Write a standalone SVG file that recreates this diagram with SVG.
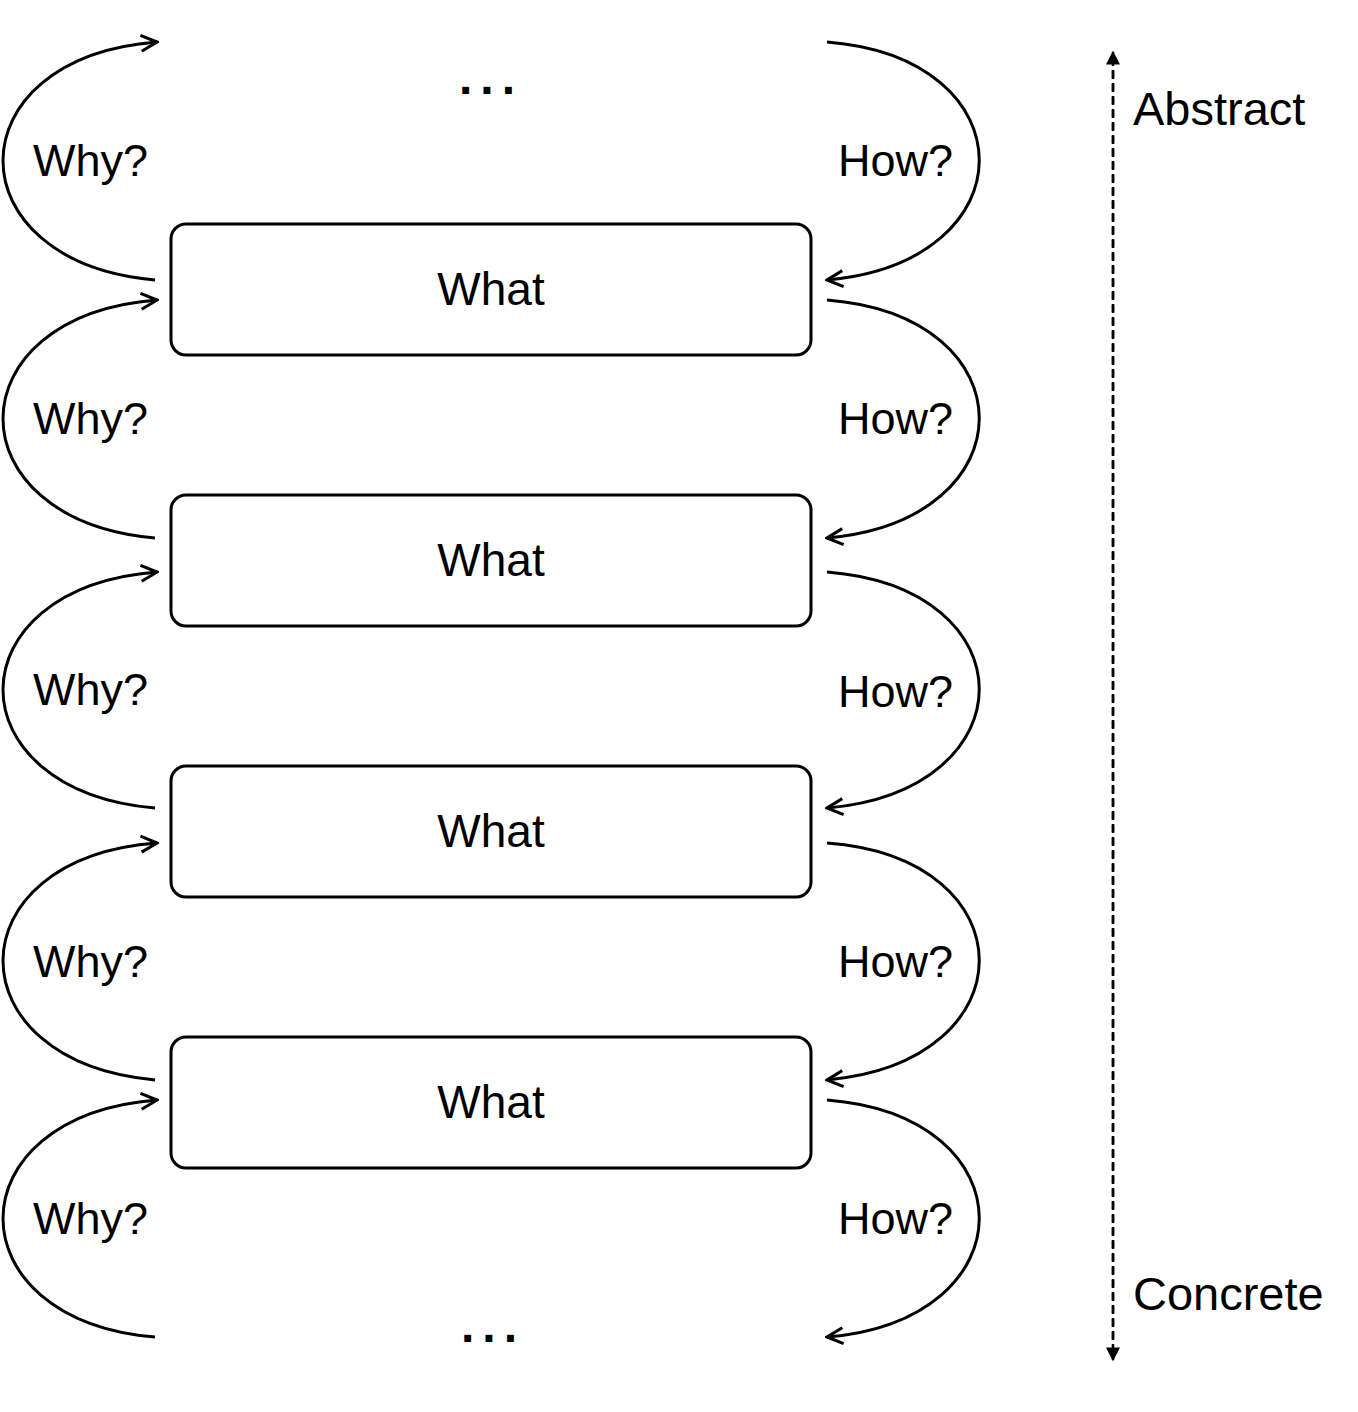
<svg xmlns="http://www.w3.org/2000/svg" width="1358" height="1412" viewBox="0 0 1358 1412">
<style>
.box{fill:#fff;stroke:#000;stroke-width:3}
.arc{fill:none;stroke:#000;stroke-width:3}
text{font-family:"Liberation Sans",Arial,sans-serif;fill:#000}
.lbl{font-size:45px}
.axis{font-size:47px}
.what{font-size:46px;text-anchor:middle}
.dots{font-size:48px;font-weight:bold;text-anchor:middle;letter-spacing:8px}
</style>
<defs>
<marker id="chev" viewBox="0 0 20 20" refX="18" refY="10" markerWidth="20" markerHeight="20" markerUnits="userSpaceOnUse" orient="auto">
<path d="M2,2 L18,10 L2,18" fill="none" stroke="#000" stroke-width="3"/>
</marker>
<marker id="tri" viewBox="0 0 10 10" refX="9" refY="5" markerWidth="14" markerHeight="14" markerUnits="userSpaceOnUse" orient="auto">
<path d="M0,0 L10,5 L0,10 Z" fill="#000"/>
</marker>
</defs>
<rect width="1358" height="1412" fill="#fff"/>
<g id="connectors">
<path class="arc" d="M155,280 C-48,262 -48,58 157,42" marker-end="url(#chev)"/>
<path class="arc" d="M155,538 C-48,520 -48,316 157,300" marker-end="url(#chev)"/>
<path class="arc" d="M155,808 C-48,790 -48,588 157,572" marker-end="url(#chev)"/>
<path class="arc" d="M155,1080 C-48,1062 -48,858 157,843" marker-end="url(#chev)"/>
<path class="arc" d="M155,1337 C-48,1320 -48,1116 157,1100" marker-end="url(#chev)"/>
<path class="arc" d="M827,42 C1030,58 1030,262 827,280" marker-end="url(#chev)"/>
<path class="arc" d="M827,300 C1030,316 1030,520 827,538" marker-end="url(#chev)"/>
<path class="arc" d="M827,572 C1030,588 1030,790 827,808" marker-end="url(#chev)"/>
<path class="arc" d="M827,843 C1030,858 1030,1062 827,1080" marker-end="url(#chev)"/>
<path class="arc" d="M827,1100 C1030,1116 1030,1320 827,1337" marker-end="url(#chev)"/>
<line x1="1113" y1="1340" x2="1113" y2="52" stroke="#000" stroke-width="2.5" stroke-dasharray="8,5" marker-end="url(#tri)"/>
<line x1="1113" y1="70" x2="1113" y2="1360" stroke="#000" stroke-width="2.5" stroke-dasharray="8,5" marker-end="url(#tri)"/>
</g>
<g id="what1"><rect class="box" x="171" y="224" width="640" height="131" rx="15"/><text class="what" x="491" y="305">What</text></g>
<g id="what2"><rect class="box" x="171" y="495" width="640" height="131" rx="15"/><text class="what" x="491" y="576">What</text></g>
<g id="what3"><rect class="box" x="171" y="766" width="640" height="131" rx="15"/><text class="what" x="491" y="847">What</text></g>
<g id="what4"><rect class="box" x="171" y="1037" width="640" height="131" rx="15"/><text class="what" x="491" y="1118">What</text></g>
<g id="labels">
<text class="dots" x="491" y="94">...</text>
<text class="dots" x="493" y="1342">...</text>
<text class="lbl" x="33" y="176">Why?</text>
<text class="lbl" x="33" y="434">Why?</text>
<text class="lbl" x="33" y="705">Why?</text>
<text class="lbl" x="33" y="977">Why?</text>
<text class="lbl" x="33" y="1234">Why?</text>
<text class="lbl" x="838" y="176">How?</text>
<text class="lbl" x="838" y="434">How?</text>
<text class="lbl" x="838" y="707">How?</text>
<text class="lbl" x="838" y="977">How?</text>
<text class="lbl" x="838" y="1234">How?</text>
<text class="axis" x="1133" y="125">Abstract</text>
<text class="axis" x="1133" y="1310">Concrete</text>
</g>
</svg>
